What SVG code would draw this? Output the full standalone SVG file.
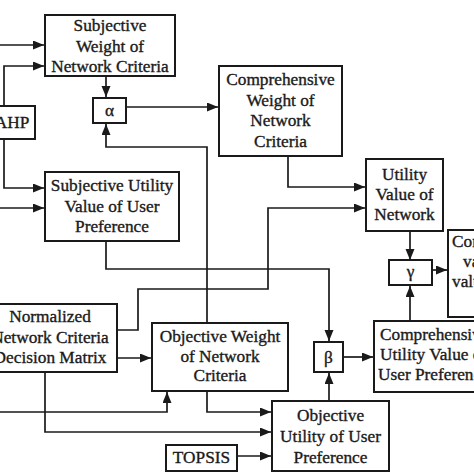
<svg xmlns="http://www.w3.org/2000/svg" width="474" height="474" viewBox="0 0 474 474">
<defs>
<marker id="ah" markerUnits="userSpaceOnUse" markerWidth="12" markerHeight="10" refX="11" refY="4.5" orient="auto">
<path d="M0,0 L11,4.5 L0,9 z" fill="#1a1a1a"/>
</marker>
<style>
.box{fill:#fff;stroke:#1a1a1a;stroke-width:2}
.t{font-family:"Liberation Serif","Times New Roman",serif;font-size:17.3px;fill:#1a1a1a;stroke:#1a1a1a;stroke-width:0.35;text-anchor:middle}
.s{text-anchor:start}
.c{fill:none;stroke:#1a1a1a;stroke-width:1.7}
.a{marker-end:url(#ah)}
</style>
</defs>
<rect width="474" height="474" fill="#fff"/>
<g id="connectors">
<path class="c a" d="M0,45 H44"/>
<path class="c a" d="M4,106 V66 H44"/>
<path class="c a" d="M4,139 V188 H44"/>
<path class="c a" d="M0,208 H44"/>
<path class="c a" d="M106,76 V97"/>
<path class="c a" d="M207,323 V147 H106 V124"/>
<path class="c a" d="M126,107 H218"/>
<path class="c a" d="M288,156 V187 H365"/>
<path class="c a" d="M117,330 H138 V289 H268 V208 H365"/>
<path class="c a" d="M106,241 V269 H329 V341"/>
<path class="c a" d="M117,358 H151"/>
<path class="c a" d="M0,412 H167 V392"/>
<path class="c a" d="M207,391 V412 H271"/>
<path class="c a" d="M45,372 V432 H271"/>
<path class="c a" d="M237,456 H271"/>
<path class="c a" d="M329,401 V373"/>
<path class="c a" d="M343,357 H373"/>
<path class="c a" d="M410,231 V260"/>
<path class="c a" d="M410,321 V286"/>
<path class="c a" d="M432,270 H447"/>
</g>
<g id="subjective-weight">
<rect class="box" x="45" y="15" width="130" height="61"/>
<text class="t" x="110" y="31">Subjective</text>
<text class="t" x="110" y="52">Weight of</text>
<text class="t" x="110" y="72">Network Criteria</text>
</g>
<g id="ahp">
<rect class="box" x="-14" y="106" width="49" height="33"/>
<text class="t" x="12" y="128">AHP</text>
</g>
<g id="alpha">
<rect class="box" x="93" y="98" width="33" height="25"/>
<text class="t" x="109.5" y="116">α</text>
</g>
<g id="comprehensive-weight">
<rect class="box" x="219" y="66" width="123" height="90"/>
<text class="t" x="280.5" y="85">Comprehensive</text>
<text class="t" x="280.5" y="106">Weight of</text>
<text class="t" x="280.5" y="126">Network</text>
<text class="t" x="280.5" y="147">Criteria</text>
</g>
<g id="subjective-utility">
<rect class="box" x="45" y="172" width="134" height="69"/>
<text class="t" x="112" y="191">Subjective Utility</text>
<text class="t" x="112" y="212">Value of User</text>
<text class="t" x="112" y="232">Preference</text>
</g>
<g id="utility-value">
<rect class="box" x="366" y="159" width="77" height="72"/>
<text class="t" x="404.5" y="180">Utility</text>
<text class="t" x="404.5" y="200">Value of</text>
<text class="t" x="404.5" y="220">Network</text>
</g>
<g id="normalized">
<rect class="box" x="-17" y="304" width="134" height="68"/>
<text class="t" x="50" y="322">Normalized</text>
<text class="t" x="50" y="343">Network Criteria</text>
<text class="t" x="50" y="363">Decision Matrix</text>
</g>
<g id="objective-weight">
<rect class="box" x="152" y="323" width="136" height="68"/>
<text class="t" x="220" y="342">Objective Weight</text>
<text class="t" x="220" y="362">of Network</text>
<text class="t" x="220" y="381">Criteria</text>
</g>
<g id="beta">
<rect class="box" x="314" y="342" width="29" height="30"/>
<text class="t" x="328.5" y="363">β</text>
</g>
<g id="objective-utility">
<rect class="box" x="272" y="401" width="117" height="70"/>
<text class="t" x="330.5" y="421">Objective</text>
<text class="t" x="330.5" y="442">Utility of User</text>
<text class="t" x="330.5" y="463">Preference</text>
</g>
<g id="topsis">
<rect class="box" x="166" y="445" width="71" height="26"/>
<text class="t" x="201.5" y="463">TOPSIS</text>
</g>
<g id="gamma">
<rect class="box" x="389" y="260" width="43" height="25"/>
<text class="t" x="410.5" y="277">γ</text>
</g>
<g id="comprehensive-utility">
<rect class="box" x="374" y="321" width="124" height="71"/>
<text class="t s" x="380" y="340">Comprehensive</text>
<text class="t s" x="380" y="360">Utility Value of</text>
<text class="t s" x="378" y="380">User Preference</text>
</g>
<g id="comprehensive-value">
<rect class="box" x="448" y="230" width="70" height="87"/>
<text class="t s" x="452" y="247">Comprehensive</text>
<text class="t s" x="463" y="267">value of</text>
<text class="t s" x="452" y="287">values</text>
</g>
</svg>
